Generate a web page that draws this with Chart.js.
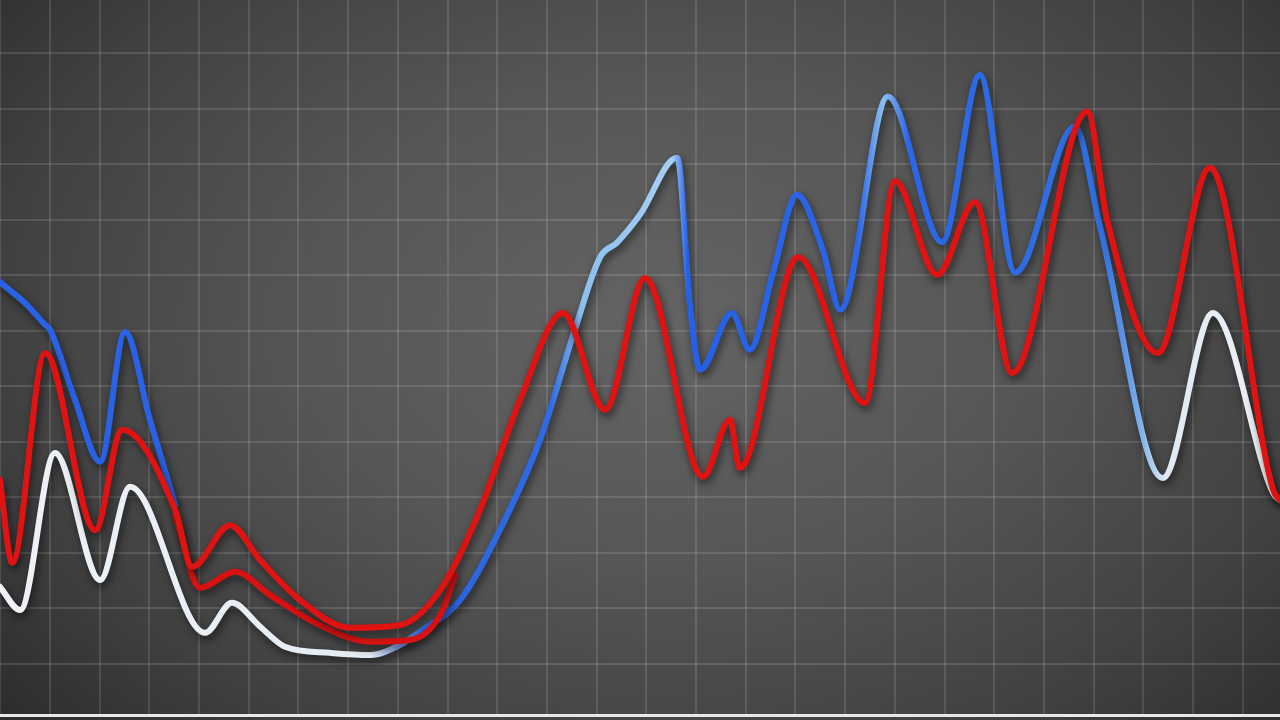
<!DOCTYPE html>
<html lang="es">
<head>
<meta charset="utf-8">
<title>Líneas</title>
<script src="https://cdn.jsdelivr.net/npm/chart.js@4.4.1/dist/chart.umd.min.js"></script>
<style>
  html, body { margin: 0; padding: 0; overflow: hidden; }
  body {
    background: radial-gradient(ellipse 70% 85% at 52% 45%, #646464 0%, #565656 40%, #404040 75%, #2b2b2b 100%);
  }
  #contenedor { position: relative; width: 1280px; height: 720px; }
</style>
</head>
<body>
<div id="contenedor"><canvas id="grafica"></canvas></div>
<script>
// Datos (x en columnas de la cuadrícula, y en filas)

// Tramo azul de la izquierda
const xAzulIzq = [-1.01, -0.50, -0.10, 0, 0.50, 1.01, 1.51, 2.01, 2.52];
const yAzulIzq = [7.88, 7.50, 7.11, 7.02, 5.76, 4.64, 6.98, 5.40, 3.86];

// Línea principal: blanca a la izquierda, azul en el centro, blanca al final
const xPrincipal = [-1.01, -0.60, 0.10, 1.01, 1.61, 3.12, 3.66, 4.23, 4.73, 5.63, 6.44, 7.04, 7.44,
  8.25, 9.05, 9.86, 10.56, 11.07, 11.41, 11.87, 12.62, 12.88, 13.08, 13.72, 14.08, 14.55, 15.03,
  15.55, 15.90, 16.86, 17.95, 18.71, 19.42, 20.62, 21.13, 22.39, 23.40, 24.61, 24.75];
const yPrincipal = [2.39, 1.97, 4.80, 2.51, 4.19, 1.56, 2.10, 1.67, 1.31, 1.20, 1.16, 1.34, 1.58,
  2.15, 3.41, 5.04, 7.02, 8.33, 8.59, 9.09, 10.12, 7.43, 6.30, 7.32, 6.66, 8.05, 9.45,
  8.46, 7.38, 11.22, 8.60, 11.61, 8.05, 10.68, 8.87, 4.35, 7.32, 4.08, 3.95];

// Línea roja principal
const xRojaA = [-1.01, -0.76, -0.10, 0.91, 1.45, 2.52, 2.86, 3.62, 4.23, 5.03, 6.04, 7.04, 7.85,
  8.65, 9.46, 10.32, 11.17, 11.97, 13.14, 13.68, 13.88, 15.05, 16.40, 17.00, 17.85, 18.61,
  19.36, 20.87, 21.27, 22.29, 23.34, 24.61, 24.75];
const yRojaA = [4.32, 2.82, 6.60, 3.41, 5.22, 3.77, 2.75, 3.50, 2.87, 2.15, 1.65, 1.70, 2.33,
  3.77, 5.76, 7.32, 5.58, 7.95, 4.37, 5.40, 4.53, 8.33, 5.70, 9.70, 8.01, 9.32,
  6.24, 10.95, 9.00, 6.60, 9.94, 4.14, 3.95];

// Segunda línea roja (solo en el valle de la izquierda)
const xRojaB = [2.52, 3.02, 3.72, 4.43, 5.43, 6.44, 7.24, 7.85, 8.15];
const yRojaB = [3.68, 2.37, 2.66, 2.24, 1.70, 1.40, 1.43, 1.88, 2.60];

// Marcas de la cuadrícula
const marcasX = Array.from({ length: 26 }, (_, i) => i - 1);
const marcasY = [1, 2, 3, 4, 5, 6, 7, 8, 9, 10, 11, 12];

// Se combinan los arreglos en puntos {x, y}
function puntos(xs, ys) {
    return xs.map((x, i) => ({ x: x, y: ys[i] }));
}

// Se define el degradado de color de la línea principal
const paradasPrincipal = [
    [0, '#eef2f6'], [0.29, '#e4ecf4'], [0.33, '#2b64e2'], [0.43, '#2e6ae6'],
    [0.455, '#8cc0f0'], [0.525, '#a6cff4'], [0.537, '#2461e6'], [0.67, '#2a66e6'],
    [0.69, '#8bbef0'], [0.71, '#2a66e6'], [0.86, '#3170e2'], [0.89, '#78aee8'],
    [0.91, '#dfe8f3'], [1, '#f2f4f6']
];

function degradadoPrincipal(context) {
    const { ctx, chartArea } = context.chart;
    if (!chartArea) return '#2b64e2';
    const g = ctx.createLinearGradient(chartArea.left, 0, chartArea.right, 0);
    paradasPrincipal.forEach(([pos, color]) => g.addColorStop(pos, color));
    return g;
}

// Plugin para la sombra debajo de cada línea
const sombra = {
    id: 'sombra',
    beforeDatasetDraw(chart) {
        const ctx = chart.ctx;
        ctx.save();
        ctx.shadowColor = 'rgba(0,0,0,0.6)';
        ctx.shadowBlur = 9;
        ctx.shadowOffsetX = 2;
        ctx.shadowOffsetY = 4;
    },
    afterDatasetDraw(chart) {
        chart.ctx.restore();
    }
};

const estiloLinea = {
    borderWidth: 6,
    pointRadius: 0,
    cubicInterpolationMode: 'monotone',
    borderCapStyle: 'round',
    borderJoinStyle: 'round',
    fill: false
};

new Chart(document.getElementById('grafica'), {
    type: 'line',
    data: {
        datasets: [
            { ...estiloLinea, label: 'Roja A', data: puntos(xRojaA, yRojaA), borderColor: '#e01313' },
            { ...estiloLinea, label: 'Roja B', data: puntos(xRojaB, yRojaB), borderColor: '#d81212' },
            { ...estiloLinea, label: 'Azul', data: puntos(xAzulIzq, yAzulIzq), borderColor: '#2a62e6' },
            { ...estiloLinea, label: 'Principal', data: puntos(xPrincipal, yPrincipal), borderColor: degradadoPrincipal }
        ]
    },
    options: {
        responsive: true,
        maintainAspectRatio: false,
        animation: false,
        layout: { padding: { left: 0, right: 0, top: 0, bottom: 5 } },
        plugins: {
            legend: { display: false },
            tooltip: { enabled: false }
        },
        scales: {
            x: {
                type: 'linear',
                min: -1.006,
                max: 24.75,
                afterBuildTicks: scale => { scale.ticks = marcasX.map(v => ({ value: v })); },
                ticks: { display: false },
                grid: { color: 'rgba(255,255,255,0.12)', lineWidth: 2, drawTicks: false },
                border: { display: true, color: '#e8e8e8', width: 3 }
            },
            y: {
                type: 'linear',
                min: 0.08,
                max: 12.96,
                afterBuildTicks: scale => { scale.ticks = marcasY.map(v => ({ value: v })); },
                ticks: { display: false },
                grid: { color: 'rgba(255,255,255,0.12)', lineWidth: 2, drawTicks: false },
                border: { display: false }
            }
        }
    },
    plugins: [sombra]
});
</script>
</body>
</html>
